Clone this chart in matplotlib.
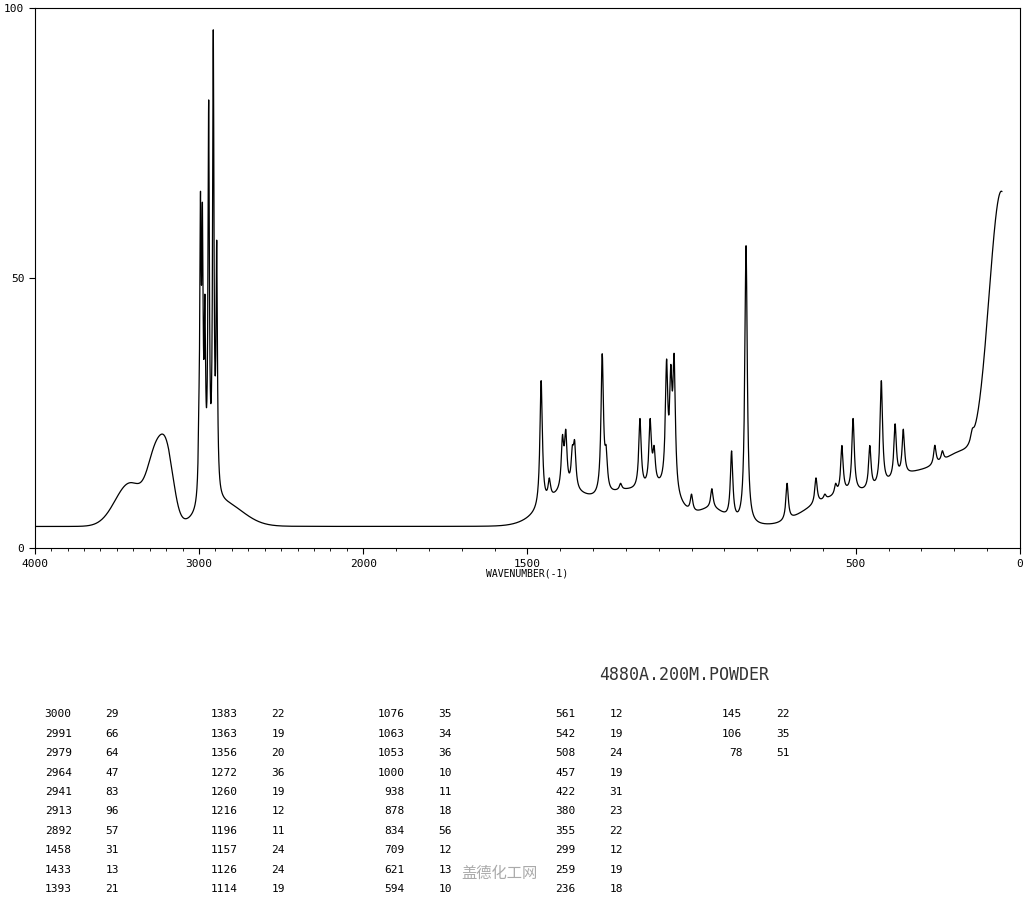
import numpy as np
import matplotlib
matplotlib.use('Agg')
import matplotlib.pyplot as plt

# peak table (wavenumber, intensity) as printed under the spectrum
peak_pos = [3000, 2991, 2979, 2964, 2941, 2913, 2892, 1458, 1433, 1393,
            1383, 1363, 1356, 1272, 1260, 1216, 1196, 1157, 1126, 1114,
            1076, 1063, 1053, 1000, 938, 878, 834, 709, 621, 594,
            561, 542, 508, 457, 422, 380, 355, 299, 259, 236,
            145, 106, 78]
peak_int = [29, 66, 64, 47, 83, 96, 57, 31, 13, 21,
            22, 19, 20, 36, 19, 12, 11, 24, 24, 19,
            35, 34, 36, 10, 11, 18, 56, 12, 13, 10,
            12, 19, 24, 19, 31, 23, 22, 12, 19, 18,
            22, 35, 51]

# broad background bands (center, height, half width)
bg_center = [3420, 3260, 3190, 2850, 1380, 1200, 1080, 940, 620, 520, 380, 230, 160, 55]
bg_height = [8.0, 12.0, 10.0, 4.0, 6.0, 6.0, 5.0, 3.0, 3.0, 4.0, 6.0, 9.0, 6.0, 60.0]
bg_width = [90, 50, 40, 120, 70, 70, 50, 40, 60, 60, 80, 90, 50, 40]
bg_level = 4.0


def lor(x, c, w):
    return 1.0 / (1.0 + ((x - c) / w) ** 2)


def background(x):
    x = np.asarray(x, dtype=float)
    b = np.full_like(x, bg_level)
    for c, h, w in zip(bg_center, bg_height, bg_width):
        b += h * np.exp(-0.5 * ((x - c) / w) ** 2)
    return b


pos = np.array(peak_pos, dtype=float)
val = np.array(peak_int, dtype=float)
wid = np.where(pos > 2800, 5.0, np.where(pos < 200, 6.0, 4.5))
A = np.array([[lor(p, c, w) for c, w in zip(pos, wid)] for p in pos])
amp = np.linalg.solve(A, val - background(pos))
amp = np.clip(amp, 0, None)

x = np.linspace(55, 4000, 16000)
y = background(x)
for c, a, w in zip(pos, amp, wid):
    y += a * lor(x, c, w)


def fwd(v):
    v = np.asarray(v, dtype=float)
    return np.where(v >= 2000, 2000 + (v - 2000) * 0.5, v)


def inv(v):
    v = np.asarray(v, dtype=float)
    return np.where(v >= 2000, 2000 + (v - 2000) * 2.0, v)


fig = plt.figure(figsize=(10.24, 9.0), dpi=100)
ax = fig.add_axes([0.034, 0.391, 0.962, 0.600])
ax.set_xscale('function', functions=(fwd, inv))
ax.plot(x, y, color='black', lw=0.9)
ax.set_xlim(4000, 0)
ax.set_ylim(0, 100)
ax.set_xticks([4000, 3000, 2000, 1500, 500, 0])
ax.set_xticklabels(['4000', '3000', '2000', '1500', '500', '0'])
ax.set_xticks(list(range(100, 4000, 100)), minor=True)
ax.set_yticks([0, 50, 100])
ax.tick_params(labelsize=8, length=4, direction='out')
ax.tick_params(which='minor', length=2)
for lbl in ax.get_xticklabels() + ax.get_yticklabels():
    lbl.set_family('DejaVu Sans Mono')
ax.set_xlabel('WAVENUMBER(-1)', fontsize=7, family='DejaVu Sans Mono', labelpad=0)

fig.text(0.585, 0.245, '4880A.200M.POWDER', fontsize=12, family='DejaVu Sans Mono', color='#333333')

cols_x = [0.035, 0.197, 0.36, 0.527, 0.69]
for i, (p, v) in enumerate(zip(peak_pos, peak_int)):
    col, row = divmod(i, 10)
    yy = 0.203 - row * 0.0216
    fig.text(cols_x[col] + 0.035, yy, str(p), fontsize=8, family='DejaVu Sans Mono', ha='right')
    fig.text(cols_x[col] + 0.068, yy, str(v), fontsize=8, family='DejaVu Sans Mono')

fig.text(0.45, 0.025, '盖德化工网', fontsize=11, color='#aaaaaa', family=['Noto Sans CJK SC', 'DejaVu Sans'])

fig.savefig('out.png', dpi=100)
